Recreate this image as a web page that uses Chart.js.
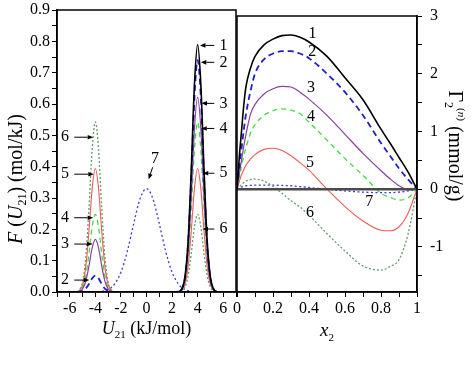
<!DOCTYPE html>
<html><head><meta charset="utf-8">
<script src="https://cdn.jsdelivr.net/npm/chart.js@4"></script>
<style>
html,body{margin:0;padding:0;background:#fff;width:474px;height:367px;overflow:hidden;}
canvas{position:absolute;top:0;}
#cl{left:0;} #cr{left:200px;}
</style></head><body>
<canvas id="cl" width="240" height="367"></canvas>
<canvas id="cr" width="274" height="367"></canvas>
<script>
// ---------- DATA: left panel, F(U21) vs U21 ----------
const u21 = [-7, -6, -5.5, -5.25, -5, -4.75, -4.5, -4.25, -4, -3.75, -3.5, -3.25, -3, -2.75, -2.5, -2, -1.5, -1, -0.5, 0, 0.5, 1, 1.5, 2, 2.5, 2.75, 3, 3.25, 3.5, 3.75, 4, 4.25, 4.5, 4.75, 5, 5.25, 5.5, 6, 7];
const F1 = [0, 0, 0, 0, 0, 0, 0, 0, 0, 0, 0, 0, 0, 0, 0, 0, 0, 0, 0, 0, 0, 0, 0, 0, 0.001, 0.009, 0.046, 0.160, 0.389, 0.662, 0.790, 0.662, 0.389, 0.160, 0.046, 0.009, 0.001, 0, 0];
const F2 = [0, 0, 0.0001, 0.0006, 0.0031, 0.0106, 0.0256, 0.0436, 0.052, 0.0436, 0.0256, 0.0106, 0.0031, 0.0006, 0.0001, 0, 0, 0, 0, 0, 0, 0, 0, 0, 0.0013, 0.0088, 0.0435, 0.150, 0.364, 0.620, 0.740, 0.620, 0.364, 0.150, 0.0435, 0.0088, 0.0013, 0, 0];
const F3 = [0, 0, 0.0003, 0.002, 0.0099, 0.0341, 0.0827, 0.1408, 0.168, 0.1408, 0.0827, 0.0341, 0.0099, 0.002, 0.0003, 0, 0, 0, 0, 0, 0, 0, 0, 0, 0.0011, 0.0074, 0.0366, 0.1263, 0.306, 0.521, 0.622, 0.521, 0.306, 0.1263, 0.0366, 0.0074, 0.0011, 0, 0];
const F4 = [0, 0, 0.0004, 0.003, 0.0146, 0.0503, 0.122, 0.208, 0.248, 0.208, 0.122, 0.0503, 0.0146, 0.003, 0.0004, 0, 0, 0, 0, 0, 0, 0, 0, 0, 0.0009, 0.0064, 0.0319, 0.110, 0.267, 0.454, 0.542, 0.454, 0.267, 0.110, 0.0319, 0.0064, 0.0009, 0, 0];
const F5 = [0, 0, 0.0007, 0.0047, 0.0232, 0.080, 0.194, 0.330, 0.394, 0.330, 0.194, 0.080, 0.0232, 0.0047, 0.0007, 0, 0, 0, 0, 0, 0, 0, 0, 0, 0.0007, 0.0047, 0.0232, 0.080, 0.194, 0.330, 0.394, 0.330, 0.194, 0.080, 0.0232, 0.0047, 0.0007, 0, 0];
const F6 = [0, 0, 0.0009, 0.0065, 0.0319, 0.110, 0.267, 0.455, 0.543, 0.455, 0.267, 0.110, 0.0319, 0.0065, 0.0009, 0, 0, 0, 0, 0, 0, 0, 0, 0, 0.0004, 0.003, 0.0146, 0.0503, 0.122, 0.208, 0.248, 0.208, 0.122, 0.0503, 0.0146, 0.003, 0.0004, 0, 0];
const F7 = [0, 0, 0, 0, 0, 0, 0, 0, 0.0004, 0.001, 0.0021, 0.0042, 0.008, 0.0145, 0.025, 0.063, 0.130, 0.218, 0.298, 0.33, 0.298, 0.218, 0.130, 0.063, 0.025, 0.0145, 0.008, 0.0042, 0.0021, 0.001, 0.0004, 0, 0, 0, 0, 0, 0, 0, 0];

// ---------- DATA: right panel, Gamma2(n) vs x2 ----------
const x2 = [0, 0.0125, 0.025, 0.0375, 0.05, 0.075, 0.1, 0.15, 0.2, 0.25, 0.3, 0.35, 0.4, 0.5, 0.6, 0.7, 0.8, 0.85, 0.9, 0.95, 1];
const G1 = [0, 0.55, 1.0, 1.45, 1.78, 2.1, 2.3, 2.5, 2.6, 2.66, 2.67, 2.63, 2.55, 2.3, 1.93, 1.55, 1.04, 0.8, 0.55, 0.3, 0];
const G2 = [0, 0.37, 0.7, 1.02, 1.3, 1.7, 2.0, 2.25, 2.35, 2.39, 2.39, 2.35, 2.27, 2.0, 1.68, 1.28, 0.8, 0.58, 0.36, 0.17, 0];
const G3 = [0, 0.27, 0.5, 0.74, 0.95, 1.3, 1.47, 1.65, 1.74, 1.78, 1.77, 1.68, 1.56, 1.28, 0.95, 0.62, 0.32, 0.18, 0.06, -0.01, 0];
const G4 = [0, 0.21, 0.4, 0.57, 0.72, 0.97, 1.12, 1.28, 1.36, 1.39, 1.37, 1.31, 1.16, 0.85, 0.53, 0.24, -0.07, -0.14, -0.19, -0.15, 0];
const G5 = [0, 0.13, 0.25, 0.34, 0.42, 0.52, 0.6, 0.69, 0.71, 0.67, 0.58, 0.46, 0.33, 0.0, -0.3, -0.55, -0.71, -0.72, -0.65, -0.42, 0];
const G6 = [0, 0.04, 0.08, 0.115, 0.14, 0.165, 0.175, 0.14, 0.05, -0.07, -0.2, -0.31, -0.45, -0.77, -1.07, -1.33, -1.40, -1.34, -1.22, -0.78, 0];
const G7 = [0, 0.02, 0.04, 0.05, 0.06, 0.065, 0.07, 0.07, 0.07, 0.065, 0.06, 0.045, 0.03, 0.0, -0.03, -0.05, -0.06, -0.06, -0.05, -0.03, 0];
const zeroX = [0, 1];
const zeroY = [0, 0];

// curve labels (data units)
const seriesNames = ['1', '2', '3', '4', '5', '6', '7'];
const leftNotes = [
  {t: '1', x: 6.02, y: 0.787, ax: 5.3, hx: 4.18},
  {t: '2', x: 6.02, y: 0.733, ax: 5.3, hx: 4.25},
  {t: '3', x: 6.02, y: 0.602, ax: 5.3, hx: 4.3},
  {t: '4', x: 6.02, y: 0.522, ax: 5.3, hx: 4.28},
  {t: '5', x: 6.02, y: 0.379, ax: 5.3, hx: 4.4},
  {t: '6', x: 6.02, y: 0.201, ax: 5.3, hx: 4.38},
  {t: '6', x: -6.38, y: 0.494, ax: -5.65, hx: -4.17},
  {t: '5', x: -6.38, y: 0.376, ax: -5.65, hx: -4.12},
  {t: '4', x: -6.38, y: 0.237, ax: -5.65, hx: -4.17},
  {t: '3', x: -6.38, y: 0.153, ax: -5.65, hx: -4.22},
  {t: '2', x: -6.38, y: 0.038, ax: -5.65, hx: -4.48},
  {t: '7', x: 0.66, y: 0.425, ax: 0.48, ay: 0.398, hx: 0.17, hy: 0.36}
];
const rightNotes = [
  {t: '1', x: 0.42, y: 2.69}, {t: '2', x: 0.418, y: 2.38}, {t: '3', x: 0.411, y: 1.75},
  {t: '4', x: 0.411, y: 1.26}, {t: '5', x: 0.406, y: 0.46}, {t: '6', x: 0.406, y: -0.41},
  {t: '7', x: 0.735, y: -0.22}
];

// ---------- STYLE ----------
const SERIF = '"Liberation Serif", "Times New Roman", serif';
const styles = [
  {c: '#000000', w: 1.6, d: []},
  {c: '#1f1fc8', w: 1.8, d: [6, 4]},
  {c: '#8b3fa0', w: 1.2, d: []},
  {c: '#3ddc3d', w: 1.3, d: [5, 4]},
  {c: '#ef5a5a', w: 1.1, d: []},
  {c: '#5f9f6a', w: 1.3, d: [2, 2]},
  {c: '#3a3ad0', w: 1.3, d: [2, 2.5]}
];
function fnt(s, it) { return (it ? 'italic ' : '') + s + 'px ' + SERIF; }

function mkSet(xs, ys, k, label) {
  const st = styles[k];
  return {
    label: label,
    data: xs.map((x, i) => ({x: x, y: ys[i]})),
    borderColor: st.c, borderWidth: st.w, borderDash: st.d,
    pointRadius: 0, fill: false, cubicInterpolationMode: 'monotone'
  };
}

function drawRich(ctx, parts, cx, cy, rot, main) {
  ctx.save();
  ctx.translate(cx, cy);
  ctx.rotate(rot);
  ctx.fillStyle = '#000';
  ctx.textBaseline = 'alphabetic';
  ctx.textAlign = 'left';
  let total = 0;
  const ws = parts.map(p => { ctx.font = fnt(p.s, p.i); const w = ctx.measureText(p.t).width; total += w; return w; });
  let x = -total / 2;
  const off = main * 0.33;
  parts.forEach((p, k) => { ctx.font = fnt(p.s, p.i); ctx.fillText(p.t, x, off + (p.dy || 0)); x += ws[k]; });
  ctx.restore();
}

function arrow(ctx, x0, y0, x1, y1) {
  const a = Math.atan2(y1 - y0, x1 - x0), L = 5.5, W = 2.3;
  const bx = x1 - L * Math.cos(a), by = y1 - L * Math.sin(a);
  ctx.save();
  ctx.strokeStyle = '#000'; ctx.fillStyle = '#000'; ctx.lineWidth = 1;
  ctx.beginPath(); ctx.moveTo(x0, y0); ctx.lineTo(bx, by); ctx.stroke();
  ctx.beginPath(); ctx.moveTo(x1, y1);
  ctx.lineTo(bx - W * Math.sin(a), by + W * Math.cos(a));
  ctx.lineTo(bx + W * Math.sin(a), by - W * Math.cos(a));
  ctx.closePath(); ctx.fill();
  ctx.restore();
}

function makeDecor(notes, titles) {
  return {
    id: 'decor',
    afterDraw(chart) {
      const ctx = chart.ctx, a = chart.chartArea, xs = chart.scales.x, ys = chart.scales.y;
      ctx.save();
      ctx.strokeStyle = '#000'; ctx.lineWidth = 1.5;
      ctx.strokeRect(a.left, a.top, a.right - a.left, a.bottom - a.top);
      ctx.fillStyle = '#000';
      ctx.font = fnt(16);
      ctx.textAlign = 'center'; ctx.textBaseline = 'middle';
      notes.forEach(n => {
        ctx.fillText(n.t, xs.getPixelForValue(n.x), ys.getPixelForValue(n.y));
        if (n.ax !== undefined) {
          arrow(ctx, xs.getPixelForValue(n.ax), ys.getPixelForValue(n.ay !== undefined ? n.ay : n.y),
                xs.getPixelForValue(n.hx), ys.getPixelForValue(n.hy !== undefined ? n.hy : n.y));
        }
      });
      titles(ctx, a);
      ctx.restore();
    }
  };
}

const tickFont = {family: SERIF, size: 16, lineHeight: 1};
const gridOpt = {drawOnChartArea: false, drawTicks: true, tickLength: 5, color: '#000', lineWidth: 1};
const borderOpt = {display: true, color: '#000', width: 1.5};

// ---------- LEFT CHART ----------
const leftY = [F1, F2, F3, F4, F5, F6, F7];
new Chart(document.getElementById('cl'), {
  type: 'line',
  data: {datasets: leftY.map((ys, k) => mkSet(u21, ys, k, seriesNames[k]))},
  options: {
    responsive: false, animation: false, devicePixelRatio: 1,
    layout: {padding: {top: 9, right: 3, left: 0, bottom: 0}},
    plugins: {legend: {display: false}, tooltip: {enabled: false}},
    scales: {
      x: {
        type: 'linear', min: -7, max: 7,
        ticks: {stepSize: 1, autoSkip: false, maxRotation: 0, color: '#000', font: tickFont, padding: 4,
          callback: v => (Math.round(v) % 2 === 0 && Math.abs(v) < 6.5) ? String(Math.round(v)) : ''},
        grid: gridOpt, border: borderOpt,
        afterFit: s => { s.height = 75; }
      },
      y: {
        min: 0, max: 0.9,
        ticks: {stepSize: 0.05, autoSkip: false, color: '#000', font: tickFont, padding: 2,
          callback: v => (Math.round(v * 100) % 10 === 0) ? (Math.round(v * 10) / 10).toFixed(1) : ''},
        grid: gridOpt, border: borderOpt,
        afterFit: s => { s.width = 57; }
      }
    }
  },
  plugins: [makeDecor(leftNotes, (ctx, a) => {
    drawRich(ctx, [{t: 'U', i: true, s: 18}, {t: '21', s: 11, dy: 4}, {t: ' (kJ/mol)', s: 18}],
      (a.left + a.right) / 2, a.bottom + 36, 0, 18);
    drawRich(ctx, [{t: 'F', i: true, s: 20}, {t: ' (', s: 20}, {t: 'U', i: true, s: 20}, {t: '21', s: 12, dy: 4},
      {t: ') (mol/kJ)', s: 20}], a.left - 42, (a.top + a.bottom) / 2 + 28, -Math.PI / 2, 20);
  })]
});

// ---------- RIGHT CHART ----------
const rightY = [G1, G2, G3, G4, G5, G6, G7];
const rightSets = rightY.map((ys, k) => mkSet(x2, ys, k, seriesNames[k]));
rightSets.unshift({
  label: 'zero', data: zeroX.map((x, i) => ({x: x, y: zeroY[i]})),
  borderColor: '#4a4a4a', borderWidth: 2.5, pointRadius: 0, fill: false
});
new Chart(document.getElementById('cr'), {
  type: 'line',
  data: {datasets: rightSets},
  options: {
    responsive: false, animation: false, devicePixelRatio: 1,
    layout: {padding: {top: 9, right: 0, left: 37, bottom: 0}},
    plugins: {legend: {display: false}, tooltip: {enabled: false}},
    scales: {
      x: {
        type: 'linear', min: 0, max: 1,
        ticks: {stepSize: 0.1, autoSkip: false, maxRotation: 0, color: '#000', font: tickFont, padding: 4,
          callback: v => { const r = Math.round(v * 10); if (r % 2) return ''; if (r === 0) return '0'; if (r === 10) return '1'; return (r / 10).toFixed(1); }},
        grid: gridOpt, border: borderOpt,
        afterFit: s => { s.height = 75; }
      },
      y: {
        position: 'right', min: -1.78, max: 3,
        ticks: {stepSize: 0.5, includeBounds: false, autoSkip: false, color: '#000', font: tickFont, padding: 8,
          callback: v => { const h = Math.round(v * 2); return (h % 2 === 0) ? String(h / 2) : ''; }},
        grid: gridOpt, border: borderOpt,
        afterFit: s => { s.width = 57; }
      }
    }
  },
  plugins: [makeDecor(rightNotes, (ctx, a) => {
    drawRich(ctx, [{t: 'x', i: true, s: 19}, {t: '2', s: 11, dy: 5}],
      (a.left + a.right) / 2, a.bottom + 38, 0, 19);
    drawRich(ctx, [{t: 'Γ', s: 20}, {t: '2', s: 12, dy: 4}, {t: '(', s: 11, dy: -9}, {t: 'n', s: 11, i: true, dy: -9},
      {t: ')', s: 11, dy: -9}, {t: ' (mmol/g)', s: 20}], a.right + 39, (a.top + a.bottom) / 2 - 8, Math.PI / 2, 20);
  })]
});
</script>
</body></html>
